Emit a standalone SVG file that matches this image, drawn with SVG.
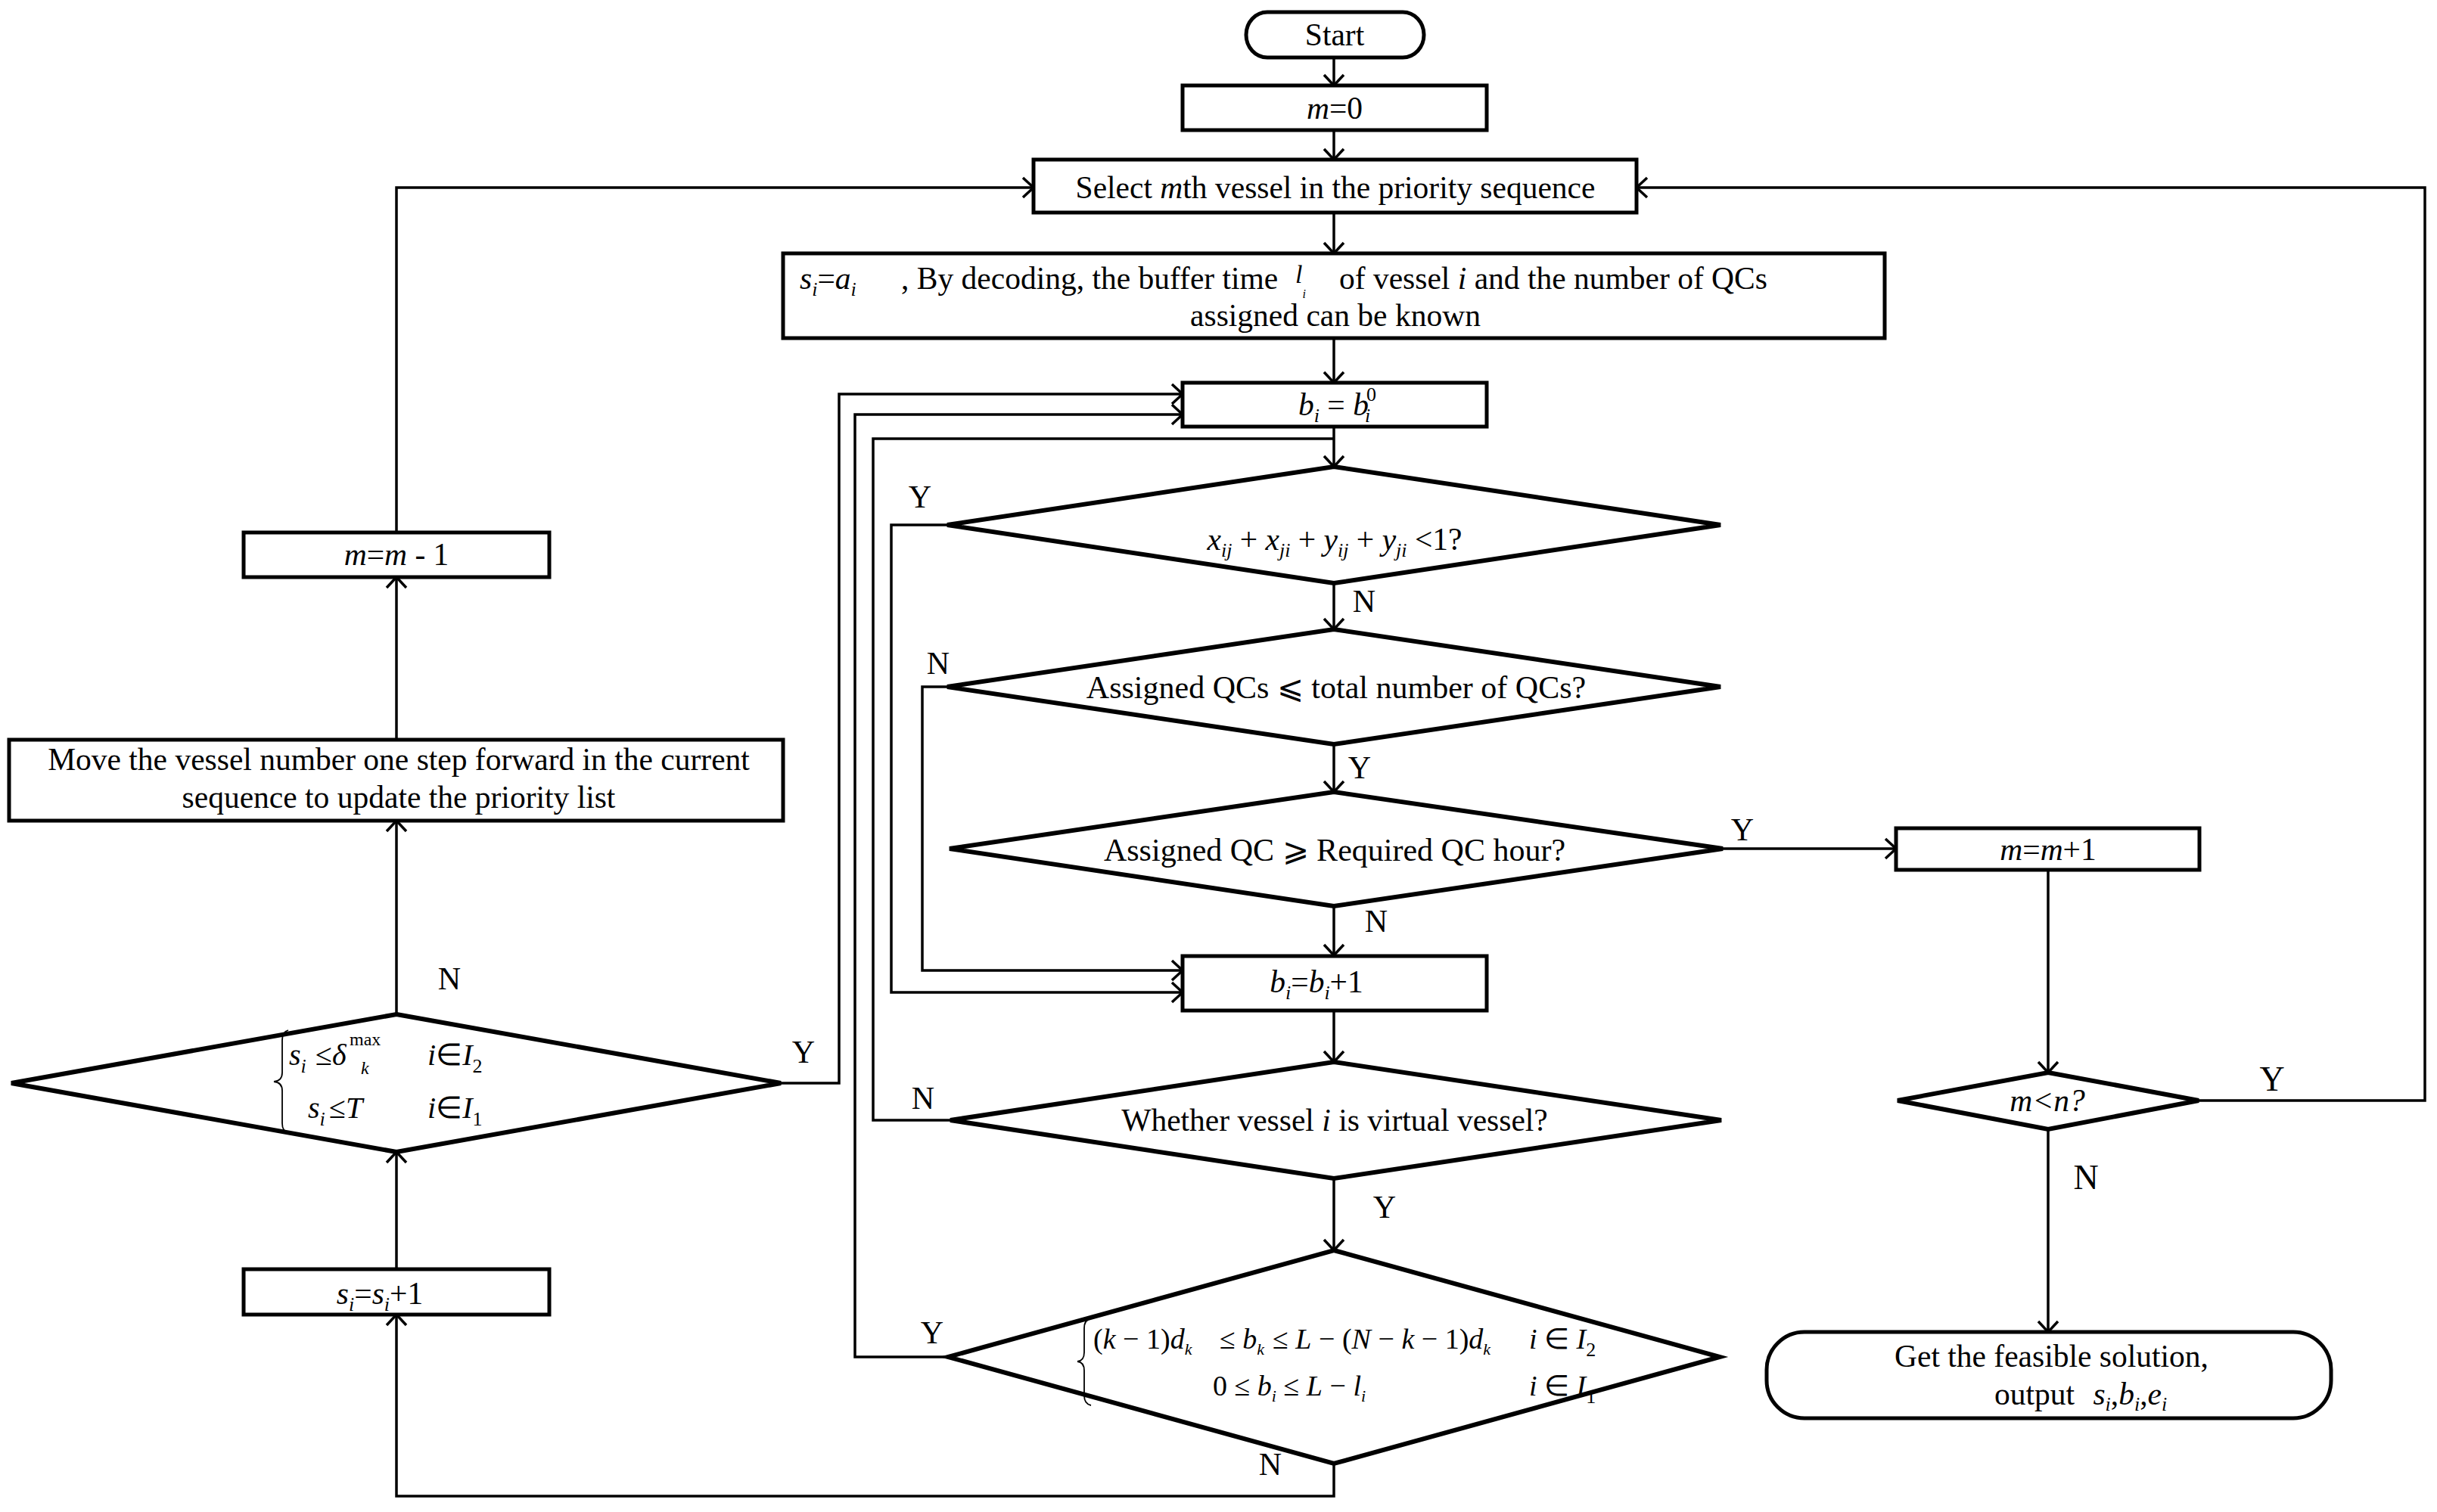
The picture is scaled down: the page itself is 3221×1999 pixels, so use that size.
<svg xmlns="http://www.w3.org/2000/svg" width="3221" height="1999" viewBox="0 0 3221 1999">
<style>
text{font-family:"Liberation Serif","Times New Roman",serif;font-size:41.5px;fill:#000}
.c{text-anchor:middle}
.i{font-style:italic}
.s{font-size:26px;font-style:italic}
.sn{font-size:26px}
.lbl{font-size:42px}
.lbl2{font-size:46px}
.f38{font-size:38px}
.f40{font-size:40px}
.box{fill:#fff;stroke:#000;stroke-width:5}
.dia{fill:#fff;stroke:#000;stroke-width:6;stroke-linejoin:miter}
.ln{fill:none;stroke:#000;stroke-width:3.5}
.arr{marker-end:url(#ah)}
.br{fill:none;stroke:#000;stroke-width:1.8}
</style>
<defs>
<marker id="ah" markerUnits="userSpaceOnUse" markerWidth="32" markerHeight="32" viewBox="0 0 32 32" refX="29" refY="16" orient="auto">
<path d="M15,3 L29,16 L15,29" fill="none" stroke="#000" stroke-width="3.5"/>
</marker>
</defs>
<rect width="3221" height="1999" fill="#fff"/>

<g id="connectors">
<path class="ln arr" d="M1763,76 V113"/>
<path class="ln arr" d="M1763,172 V211"/>
<path class="ln arr" d="M1763,281 V335"/>
<path class="ln arr" d="M1763,447 V506"/>
<path class="ln arr" d="M1763,564 V617"/>
<path class="ln arr" d="M1763,771 V832"/>
<path class="ln arr" d="M1763,984 V1047"/>
<path class="ln arr" d="M1763,1198 V1263"/>
<path class="ln arr" d="M1763,1336 V1404"/>
<path class="ln arr" d="M1763,1558 V1653"/>
<path class="ln arr" d="M1763,1935 V1978 H524 V1738"/>
<path class="ln arr" d="M524,1678 V1523"/>
<path class="ln arr" d="M524,1341 V1085"/>
<path class="ln arr" d="M524,978 V763"/>
<path class="ln arr" d="M524,704 V248 H1366"/>
<path class="ln arr" d="M1032,1432 H1109 V521 H1563"/>
<path class="ln arr" d="M1253,1794 H1130 V548 H1563"/>
<path class="ln" d="M1256,1481 H1154 V580 H1763"/>
<path class="ln arr" d="M1252,694 H1178 V1312 H1563"/>
<path class="ln arr" d="M1252,908 H1219 V1283 H1563"/>
<path class="ln arr" d="M2277,1122 H2506"/>
<path class="ln arr" d="M2707,1150 V1418"/>
<path class="ln arr" d="M2906,1455 H3205 V248 H2163"/>
<path class="ln arr" d="M2707,1493 V1761"/>
<text class="lbl c" x="1216" y="671">Y</text>
<text class="lbl c" x="1803" y="809">N</text>
<text class="lbl c" x="1240" y="891">N</text>
<text class="lbl c" x="1797" y="1029">Y</text>
<text class="lbl c" x="2303" y="1111">Y</text>
<text class="lbl c" x="1819" y="1232">N</text>
<text class="lbl c" x="1220" y="1466">N</text>
<text class="lbl c" x="1830" y="1610">Y</text>
<text class="lbl c" x="1232" y="1776">Y</text>
<text class="lbl c" x="1679" y="1950">N</text>
<text class="lbl c" x="1062" y="1405">Y</text>
<text class="lbl c" x="594" y="1308">N</text>
<text class="lbl2 c" x="3003" y="1442">Y</text>
<text class="lbl2 c" x="2757" y="1572">N</text>
</g>

<g id="start">
<rect class="box" x="1647" y="16" width="235" height="60" rx="28" ry="30"/>
<text class="c" x="1764" y="60">Start</text>
</g>

<g id="init-m">
<rect class="box" x="1563" y="113" width="402" height="59"/>
<text class="c" x="1764" y="157"><tspan class="i">m</tspan>=0</text>
</g>

<g id="select-vessel">
<rect class="box" x="1366" y="211" width="797" height="70"/>
<text class="c" x="1765" y="262">Select <tspan class="i">m</tspan>th vessel in the priority sequence</text>
</g>

<g id="decode">
<rect class="box" x="1035" y="335" width="1456" height="112"/>
<text x="1057" y="382"><tspan class="i">s</tspan><tspan class="s" dy="9">i</tspan><tspan dy="-9">=</tspan><tspan class="i">a</tspan><tspan class="s" dy="9">i</tspan></text>
<text x="1191" y="382">, By decoding, the buffer time</text>
<text x="1712" y="374" class="i" style="font-size:34px">l<tspan style="font-size:16px" dy="20">i</tspan></text>
<text x="1770" y="382">of vessel <tspan class="i">i</tspan> and the number of QCs</text>
<text class="c" x="1765" y="431">assigned can be known</text>
</g>

<g id="b-init">
<rect class="box" x="1563" y="506" width="402" height="58"/>
<text x="1716" y="549"><tspan class="i">b</tspan><tspan class="s" dy="9">i</tspan><tspan dy="-9"> = </tspan><tspan class="i">b</tspan></text>
<text class="s" x="1804" y="558">i</text>
<text class="sn" x="1806" y="530">0</text>
</g>

<g id="overlap-check">
<polygon class="dia" points="1763,617 2274,694 1763,771 1252,694"/>
<text class="c" x="1764" y="727"><tspan class="i">x</tspan><tspan class="s" dy="9">ij</tspan><tspan dy="-9"> + </tspan><tspan class="i">x</tspan><tspan class="s" dy="9">ji</tspan><tspan dy="-9"> + </tspan><tspan class="i">y</tspan><tspan class="s" dy="9">ij</tspan><tspan dy="-9"> + </tspan><tspan class="i">y</tspan><tspan class="s" dy="9">ji</tspan><tspan dy="-9"> &lt;1?</tspan></text>
</g>

<g id="qc-total-check">
<polygon class="dia" points="1763,832 2274,908 1763,984 1252,908"/>
<text class="c" x="1766" y="923" style="font-size:42px">Assigned QCs ⩽ total number of QCs?</text>
</g>

<g id="qc-hour-check">
<polygon class="dia" points="1763,1047 2277,1122 1763,1198 1255,1122"/>
<text class="c" x="1764" y="1138" style="font-size:42px">Assigned QC ⩾ Required QC hour?</text>
</g>

<g id="b-increment">
<rect class="box" x="1563" y="1264" width="402" height="72"/>
<text class="c" x="1740" y="1312"><tspan class="i">b</tspan><tspan class="s" dy="9">i</tspan><tspan dy="-9">=</tspan><tspan class="i">b</tspan><tspan class="s" dy="9">i</tspan><tspan dy="-9">+1</tspan></text>
</g>

<g id="virtual-check">
<polygon class="dia" points="1763,1404 2275,1481 1763,1558 1256,1481"/>
<text class="c" x="1764" y="1495">Whether vessel <tspan class="i">i</tspan> is virtual vessel?</text>
</g>

<g id="berth-check">
<polygon class="dia" points="1763,1653 2273,1794 1763,1935 1253,1794"/>
<path class="br" d="M1442,1743 Q1433,1745 1433,1756 L1433,1788 Q1433,1799 1424,1800 Q1433,1801 1433,1812 L1433,1845 Q1433,1856 1442,1858"/>
<text class="f38" y="1783"><tspan x="1445">(</tspan><tspan class="i">k</tspan><tspan> − 1)</tspan><tspan class="i">d</tspan><tspan class="s" dy="8" style="font-size:22px">k</tspan><tspan dy="-8" x="1612">≤ </tspan><tspan class="i">b</tspan><tspan class="s" dy="8" style="font-size:22px">k</tspan><tspan dy="-8" x="1682">≤ </tspan><tspan class="i">L</tspan><tspan> − (</tspan><tspan class="i">N</tspan><tspan> − </tspan><tspan class="i">k</tspan><tspan> − 1)</tspan><tspan class="i">d</tspan><tspan class="s" dy="8" style="font-size:22px">k</tspan></text>
<text class="f38" x="2021" y="1783"><tspan class="i">i</tspan> ∈ <tspan class="i">I</tspan><tspan class="sn" dy="10">2</tspan></text>
<text class="f38" y="1845"><tspan x="1603">0 ≤ </tspan><tspan class="i">b</tspan><tspan class="s" dy="8" style="font-size:22px">i</tspan><tspan dy="-8"> ≤ </tspan><tspan class="i">L</tspan><tspan> − </tspan><tspan class="i">l</tspan><tspan class="s" dy="8" style="font-size:22px">i</tspan></text>
<text class="f38" x="2021" y="1845"><tspan class="i">i</tspan> ∈ <tspan class="i">I</tspan><tspan class="sn" dy="10">1</tspan></text>
</g>

<g id="s-increment">
<rect class="box" x="322" y="1678" width="404" height="60"/>
<text class="c" x="502" y="1724"><tspan class="i">s</tspan><tspan class="s" dy="9">i</tspan><tspan dy="-9">=</tspan><tspan class="i">s</tspan><tspan class="s" dy="9">i</tspan><tspan dy="-9">+1</tspan></text>
</g>

<g id="start-time-check">
<polygon class="dia" points="524,1341 1032,1432 524,1523 15,1432"/>
<path class="br" d="M381,1362 Q373,1364 373,1375 L373,1418 Q373,1429 362,1430 Q373,1431 373,1442 L373,1485 Q373,1496 381,1497"/>
<text class="f40" y="1408"><tspan x="382" class="i">s</tspan><tspan class="s" dy="10">i</tspan><tspan dy="-10" x="417">≤</tspan><tspan class="i">δ</tspan></text>
<text class="s" x="462" y="1382" style="font-style:normal;font-size:24px">max</text>
<text class="s" x="477" y="1420" style="font-size:24px">k</text>
<text class="f40" x="565" y="1408"><tspan class="i">i</tspan>∈<tspan class="i">I</tspan><tspan class="sn" dy="10">2</tspan></text>
<text class="f40" y="1478"><tspan x="407" class="i">s</tspan><tspan class="s" dy="10">i</tspan><tspan dy="-10" x="435">≤</tspan><tspan class="i">T</tspan></text>
<text class="f40" x="565" y="1478"><tspan class="i">i</tspan>∈<tspan class="i">I</tspan><tspan class="sn" dy="10">1</tspan></text>
</g>

<g id="move-vessel">
<rect class="box" x="12" y="978" width="1023" height="107"/>
<text class="c" x="527" y="1018">Move the vessel number one step forward in the current</text>
<text class="c" x="527" y="1068">sequence to update the priority list</text>
</g>

<g id="m-decrement">
<rect class="box" x="322" y="704" width="404" height="59"/>
<text class="c" x="524" y="747"><tspan class="i">m</tspan>=<tspan class="i">m</tspan> - 1</text>
</g>

<g id="m-increment">
<rect class="box" x="2506" y="1095" width="401" height="55"/>
<text class="c" x="2707" y="1137"><tspan class="i">m</tspan>=<tspan class="i">m</tspan>+1</text>
</g>

<g id="m-less-n">
<polygon class="dia" points="2707,1418 2906,1455 2707,1493 2508,1455"/>
<text class="c i" x="2706" y="1469">m&lt;n?</text>
</g>

<g id="end">
<rect class="box" x="2335" y="1761" width="746" height="114" rx="50" ry="50"/>
<text x="2504" y="1807">Get the feasible solution,</text>
<text x="2636" y="1857">output  <tspan class="i" dx="14">s</tspan><tspan class="s" dy="8">i</tspan><tspan dy="-8">,</tspan><tspan class="i">b</tspan><tspan class="s" dy="8">i</tspan><tspan dy="-8">,</tspan><tspan class="i">e</tspan><tspan class="s" dy="8">i</tspan></text>
</g>
</svg>
